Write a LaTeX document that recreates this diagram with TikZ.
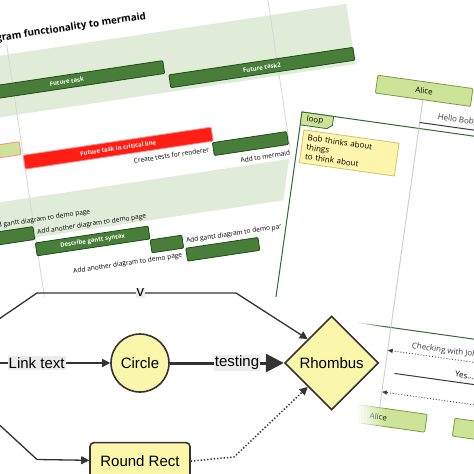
\documentclass[tikz,border=0pt]{standalone}
\usepackage{fontspec}
\setmainfont{Liberation Sans}
\newfontfamily\mmdfont{Open Sans}
\usetikzlibrary{positioning,shapes.geometric,arrows.meta}

\definecolor{bargreen}{RGB}{72,126,58}
\definecolor{barborder}{RGB}{28,78,20}
\definecolor{bandgreen}{RGB}{224,236,216}
\definecolor{donegreen}{RGB}{205,228,152}
\definecolor{critred}{RGB}{255,30,20}
\definecolor{critborder}{RGB}{255,136,136}
\definecolor{gridgray}{RGB}{215,215,215}
\definecolor{actorfill}{RGB}{205,228,152}
\definecolor{actorborder}{RGB}{120,155,70}
\definecolor{loopgreen}{RGB}{50,105,50}
\definecolor{notefill}{RGB}{255,245,173}
\definecolor{noteborder}{RGB}{200,200,100}
\definecolor{lifegray}{RGB}{205,205,205}
\definecolor{msgdark}{RGB}{55,55,70}
\definecolor{nodefill}{RGB}{250,246,170}
\definecolor{edgedark}{RGB}{51,51,51}
\definecolor{labelbg}{RGB}{236,236,236}

\tikzset{
	gbar/.style={fill=bargreen, draw=barborder, line width=0.8pt, rounded corners=1pt,
		minimum height=13pt, inner sep=0pt, text=white, font=\mmdfont\bfseries\fontsize{6}{7}\selectfont},
	gtext/.style={font=\mmdfont\fontsize{6.6}{7}\selectfont, inner sep=0pt},
	actor/.style={fill=actorfill, draw=actorborder, line width=0.8pt, rounded corners=1pt,
		minimum width=96pt, minimum height=18pt, inner sep=0pt, font=\mmdfont\fontsize{8}{9}\selectfont},
	msgtext/.style={font=\mmdfont\fontsize{8}{9}\selectfont, inner sep=0pt},
	fnode/.style={fill=nodefill, draw=edgedark, line width=1.6pt, inner sep=0pt,
		font=\fontsize{15}{17}\selectfont},
	fedge/.style={draw=edgedark, line width=1.3pt},
	flabel/.style={fill=labelbg, inner sep=1pt, font=\fontsize{15}{17}\selectfont},
	ftip/.tip={Triangle[length=8pt, width=8pt]}
}

\begin{document}
\begin{tikzpicture}[x=1pt, y=-1pt]
	\useasboundingbox (0,0) rectangle (474,474);
	\clip (0,0) rectangle (474,474);

	% gantt
	\begin{scope}
		\clip (0,0) -- (360,0) -- (360,100) -- (296,110) -- (268,310) -- (0,310) -- cycle;
		\begin{scope}[rotate=8.5, transform shape]
			\fill[bandgreen] (-60,55) rectangle (342,116);
			\fill[bandgreen] (-60,200) rectangle (342,240);
			\draw[gridgray, line width=0.8pt] (0,45) -- (0,310);
			\draw[gridgray, line width=0.8pt] (265,-20) -- (265,310);
			\node[font=\mmdfont\bfseries\fontsize{9.8}{12}\selectfont, anchor=east, inner sep=0pt] (title) at (142,38) {Adding gantt diagram functionality to mermaid};

			\node[gbar, minimum width=196pt] (fut) at (54,90.5) {Future task};
			\node[gbar, minimum width=186pt] (futtwo) at (249,105.5) {Future task2};
			\node[gbar, minimum width=48pt, fill=donegreen, draw=critborder] (done) at (-26,149.5) {};
			\node[gbar, minimum width=190pt, minimum height=14pt, fill=critred, draw=critborder] (crit) at (95,164) {Future task in critical line};
			\node[gbar, minimum width=75pt] (tests) at (226.5,179) {};
			\node[gtext, left=4pt of tests] (testslbl) {Create tests for renderer};
			\node[gtext, anchor=west] (mermlbl) at (214,194) {Add to mermaid};

			\node[gtext, anchor=east] (demolbl) at (58,223) {Add gantt diagram to demo page};
			\node[gbar, minimum width=59pt] (demo) at (-30.5,235.5) {};
			\node[gtext, right=3pt of demo] (anotherlbl) {Add another diagram to demo page};
			\node[gbar, minimum width=114pt] (syntax) at (56,252) {Describe gantt syntax};
			\node[gbar, minimum width=32pt] (small) at (129,266) {};
			\node[gtext, right=3pt of small] (demolbltwo) {Add gantt diagram to demo page};
			\node[gbar, minimum width=73pt] (another) at (183.5,279.5) {};
			\node[gtext, left=4pt of another] (anotherlbltwo) {Add another diagram to demo page};
		\end{scope}
	\end{scope}

	% sequence
	\begin{scope}[shift={(302,112)}, rotate=-8, transform shape]
		\draw[loopgreen, line width=1pt] (0,0) rectangle (330,201);
		\filldraw[fill=actorfill, draw=loopgreen, line width=0.8pt] (0,0) -- (32,0) -- (32,9) -- (27,13) -- (0,13) -- cycle;
		\node[msgtext] (looplbl) at (14,6.5) {loop};
		\node[fill=notefill, draw=noteborder, line width=0.8pt, anchor=north west, text width=86pt,
			inner xsep=5pt, inner ysep=4pt, align=left, font=\mmdfont\fontsize{8}{9.5}\selectfont] (note) at (4,17)
			{Bob thinks about\\things\\to think about};

		\node[actor] (alice) at (118,-38) {Alice};
		\node[actor] (alicebot) at (118,291) {Alice};
		\node[actor] (bobbot) at (242,291) {Bob};
		\draw[lifegray, line width=0.9pt] (alice) -- (alicebot);

		\coordinate (hello0) at (118,-6);
		\coordinate (hello1) at (242,-6);
		\draw[msgdark, line width=1pt, -{Triangle[length=5pt, width=4pt]}] (hello0) -- node[msgtext, above=3pt] {Hello Bob, how are you?} (hello1);
		\coordinate (chk0) at (118,224);
		\coordinate (chk1) at (242,224);
		\draw[msgdark, line width=0.9pt, dotted, -{Triangle[length=5pt, width=4pt]}] (chk1) -- node[msgtext, above=3pt] {Checking with John...} (chk0);
		\coordinate (yes0) at (128,246);
		\coordinate (yes1) at (330,246);
		\draw[msgdark, line width=1pt] (yes0) -- (yes1);
		\node[msgtext, anchor=west] (yeslbl) at (188,239) {Yes... John is good...};
		\coordinate (ok0) at (118,266);
		\coordinate (ok1) at (330,266);
		\draw[msgdark, line width=0.9pt, dotted, -{Triangle[length=5pt, width=4pt]}] (ok1) -- (ok0);
	\end{scope}

	% flowchart panel
	\fill[white] (0,297) rectangle (355,474);
	\foreach \k [evaluate=\k as \op using 1-\k/10] in {0,...,9}
		\fill[white, opacity=\op] (355+3*\k,297) rectangle (358+3*\k,474);

	% flowchart
	\node[fnode, circle, minimum size=58pt] (circ) at (140,363) {Circle};
	\node[fnode, diamond, aspect=1, minimum width=94pt, minimum height=94pt, right=114pt of circ] (rhomb) {Rhombus};
	\node[fnode, rounded corners=4pt, minimum width=100pt, minimum height=37pt, below=49pt of circ] (rrect) {Round Rect};

	\coordinate (srcA) at (-20,332);
	\coordinate (bendA) at (37,293);
	\coordinate (bendB) at (236,293);
	\draw[fedge, -ftip] (srcA) -- (bendA) -- node[flabel, pos=0.52] {v} (bendB) -- (rhomb.north west);
	\coordinate (srcB) at (-20,363);
	\draw[fedge, -ftip] (srcB) -- node[flabel, pos=0.435] {Link text} (circ);
	\draw[draw=edgedark, line width=3pt, -{Triangle[length=18pt, width=18pt]}] (circ) -- node[flabel, pos=0.59] {testing} (rhomb);
	\coordinate (srcC) at (-20,407);
	\coordinate (bendC) at (37,459.5);
	\draw[fedge, -ftip] (srcC) -- (bendC) -- (rrect);
	\coordinate (bendD) at (234,457);
	\draw[fedge, dotted, line width=1.5pt, -ftip] (rrect.east) -- (bendD) -- (rhomb.south west);
\end{tikzpicture}
\end{document}
